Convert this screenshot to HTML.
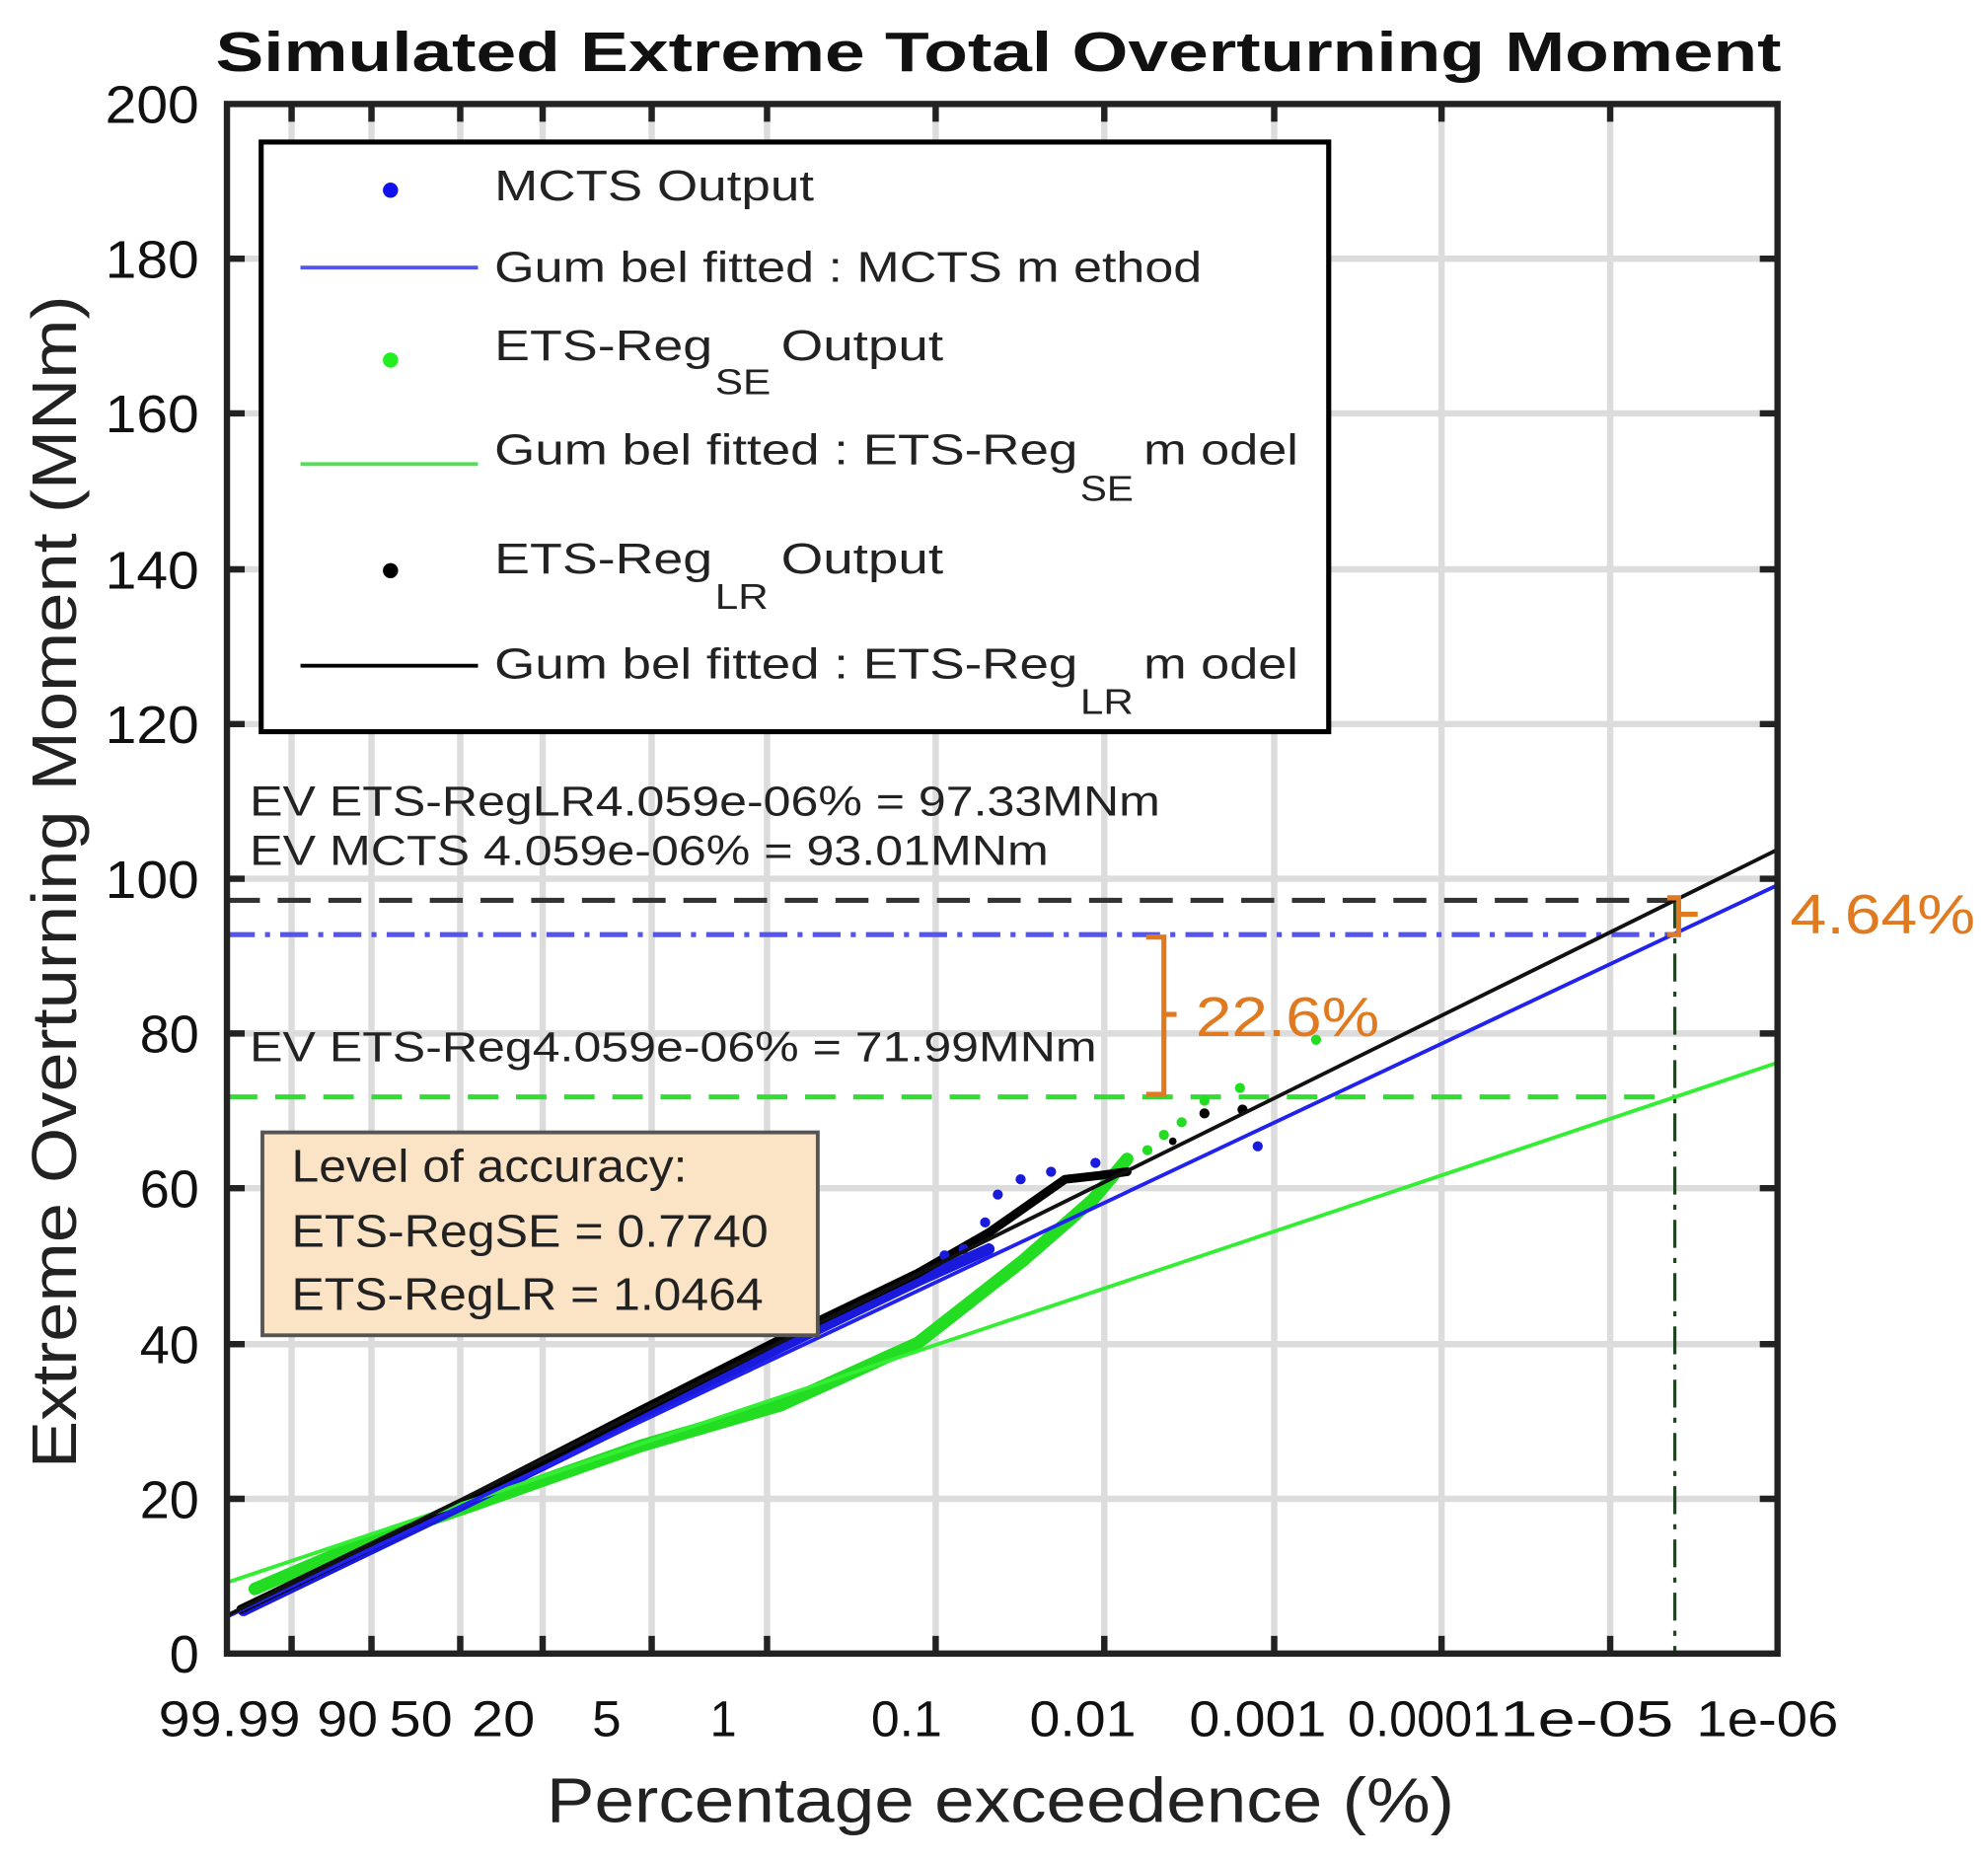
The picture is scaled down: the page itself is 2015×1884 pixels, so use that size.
<!DOCTYPE html>
<html><head><meta charset="utf-8"><style>html,body{margin:0;padding:0;background:#fff}svg{display:block}</style></head>
<body>
<svg width="2015" height="1884" viewBox="0 0 1568 1466" preserveAspectRatio="none" xmlns="http://www.w3.org/2000/svg" font-family="Liberation Sans, sans-serif">
<rect width="1568" height="1466" fill="#fff"/>
<text x="170" y="56" font-size="44" font-weight="bold" fill="#111" textLength="1235" lengthAdjust="spacingAndGlyphs">Simulated Extreme Total Overturning Moment</text>
<g stroke="#dcdcdc" stroke-width="5">
<line x1="179" x2="1402" y1="1182" y2="1182"/><line x1="179" x2="1402" y1="1060" y2="1060"/>
<line x1="179" x2="1402" y1="937" y2="937"/><line x1="179" x2="1402" y1="815" y2="815"/>
<line x1="179" x2="1402" y1="693" y2="693"/><line x1="179" x2="1402" y1="571" y2="571"/>
<line x1="179" x2="1402" y1="449" y2="449"/><line x1="179" x2="1402" y1="326" y2="326"/>
<line x1="179" x2="1402" y1="204" y2="204"/>
<line x1="230" x2="230" y1="82" y2="1304"/><line x1="293" x2="293" y1="82" y2="1304"/>
<line x1="363" x2="363" y1="82" y2="1304"/><line x1="428" x2="428" y1="82" y2="1304"/>
<line x1="514" x2="514" y1="82" y2="1304"/><line x1="605" x2="605" y1="82" y2="1304"/>
<line x1="738" x2="738" y1="82" y2="1304"/><line x1="871" x2="871" y1="82" y2="1304"/>
<line x1="1005" x2="1005" y1="82" y2="1304"/><line x1="1137" x2="1137" y1="82" y2="1304"/>
<line x1="1270" x2="1270" y1="82" y2="1304"/>
</g>
<g stroke="#222" stroke-width="5">
<path d="M230 82v14M293 82v14M363 82v14M428 82v14M514 82v14M605 82v14M738 82v14M871 82v14M1005 82v14M1137 82v14M1270 82v14"/>
<path d="M230 1304v-14M293 1304v-14M363 1304v-14M428 1304v-14M514 1304v-14M605 1304v-14M738 1304v-14M871 1304v-14M1005 1304v-14M1137 1304v-14M1270 1304v-14"/>
<path d="M179 1182h14M179 1060h14M179 937h14M179 815h14M179 693h14M179 571h14M179 449h14M179 326h14M179 204h14"/>
<path d="M1402 1182h-14M1402 1060h-14M1402 937h-14M1402 815h-14M1402 693h-14M1402 571h-14M1402 449h-14M1402 326h-14M1402 204h-14"/>
</g>
<line x1="179" x2="1321" y1="710" y2="710" stroke="#333" stroke-width="4" stroke-dasharray="26,14"/>
<line x1="179" x2="1321" y1="737" y2="737" stroke="#5555ee" stroke-width="4" stroke-dasharray="22,8,4,8"/>
<line x1="179" x2="1321" y1="865" y2="865" stroke="#33dd33" stroke-width="4" stroke-dasharray="24,14"/>
<line x1="1321" x2="1321" y1="710" y2="1304" stroke="#224422" stroke-width="2.5" stroke-dasharray="22,8,4,8"/>
<g fill="none" stroke-linecap="round" stroke-linejoin="round">
<path d="M201 1253 L290 1215 L370 1188 L506 1140 L616 1108 L724 1059 L807 994 L862 946 L889 914" stroke="#22dd22" stroke-width="10"/>
<path d="M192 1270 L364 1187 L500 1120 L616 1062 L724 1010 L780 985" stroke="#1a1add" stroke-width="9"/>
<path d="M190 1269 L364 1185 L500 1115 L616 1056 L724 1004 L780 972 L840 930 L867 927 L889 924" stroke="#000" stroke-width="7"/>
</g>
<g fill="#1a1add"><circle cx="777" cy="964" r="4"/><circle cx="787" cy="942" r="4"/><circle cx="805" cy="930" r="4"/><circle cx="829" cy="924" r="4"/><circle cx="864" cy="917" r="4"/><circle cx="992" cy="904" r="4"/><circle cx="745" cy="990" r="4"/><circle cx="760" cy="985" r="4"/></g>
<g fill="#22dd22"><circle cx="905" cy="907" r="4"/><circle cx="918" cy="895" r="4"/><circle cx="932" cy="885" r="4"/><circle cx="950" cy="868" r="4"/><circle cx="978" cy="858" r="4"/><circle cx="1038" cy="820" r="4"/></g>
<g fill="#000"><circle cx="950" cy="878" r="4"/><circle cx="980" cy="875" r="4"/><circle cx="925" cy="900" r="3"/></g>
<line x1="179" y1="1248" x2="1402" y2="838" stroke="#33ee33" stroke-width="3"/>
<line x1="179" y1="1275" x2="1402" y2="698" stroke="#2222ee" stroke-width="3"/>
<line x1="179" y1="1274" x2="1402" y2="670" stroke="#111" stroke-width="3"/>
<rect x="179" y="82" width="1223" height="1222" fill="none" stroke="#222" stroke-width="5"/>
<g font-size="33" fill="#222">
<text x="197" y="643" textLength="718" lengthAdjust="spacingAndGlyphs">EV ETS-RegLR4.059e-06% = 97.33MNm</text>
<text x="197" y="682" textLength="630" lengthAdjust="spacingAndGlyphs">EV MCTS 4.059e-06% = 93.01MNm</text>
<text x="197" y="837" textLength="668" lengthAdjust="spacingAndGlyphs">EV ETS-Reg4.059e-06% = 71.99MNm</text>
</g>
<g stroke="#e07a20" stroke-width="4" fill="none">
<path d="M904 739h14v124h-14M918 800h10"/>
<path d="M1315 708h9v29h-9M1324 721h15"/>
</g>
<text x="943" y="817" font-size="44" fill="#e07a20" textLength="145" lengthAdjust="spacingAndGlyphs">22.6%</text>
<text x="1412" y="736" font-size="44" fill="#e07a20" textLength="146" lengthAdjust="spacingAndGlyphs">4.64%</text>
<rect x="206" y="112" width="842" height="465" fill="#fff" stroke="#000" stroke-width="4"/>
<g font-size="34" fill="#222">
<circle cx="308" cy="150" r="6" fill="#1111ee"/>
<text x="390" y="158" textLength="252" lengthAdjust="spacingAndGlyphs">MCTS Output</text>
<line x1="237" x2="377" y1="211" y2="211" stroke="#5555ee" stroke-width="3"/>
<text x="390" y="222" textLength="558" lengthAdjust="spacingAndGlyphs">Gum bel fitted : MCTS m ethod</text>
<circle cx="308" cy="284" r="6" fill="#22ee22"/>
<text x="390" y="284" textLength="172" lengthAdjust="spacingAndGlyphs">ETS-Reg</text>
<text x="564" y="311" font-size="28" textLength="44" lengthAdjust="spacingAndGlyphs">SE</text>
<text x="616" y="284" textLength="128" lengthAdjust="spacingAndGlyphs">Output</text>
<line x1="237" x2="377" y1="366" y2="366" stroke="#55dd55" stroke-width="3"/>
<text x="390" y="366" textLength="460" lengthAdjust="spacingAndGlyphs">Gum bel fitted : ETS-Reg</text>
<text x="852" y="395" font-size="28" textLength="42" lengthAdjust="spacingAndGlyphs">SE</text>
<text x="902" y="366" textLength="122" lengthAdjust="spacingAndGlyphs">m odel</text>
<circle cx="308" cy="450" r="6" fill="#000"/>
<text x="390" y="452" textLength="172" lengthAdjust="spacingAndGlyphs">ETS-Reg</text>
<text x="564" y="480" font-size="28" textLength="42" lengthAdjust="spacingAndGlyphs">LR</text>
<text x="616" y="452" textLength="128" lengthAdjust="spacingAndGlyphs">Output</text>
<line x1="237" x2="377" y1="525" y2="525" stroke="#000" stroke-width="3"/>
<text x="390" y="535" textLength="460" lengthAdjust="spacingAndGlyphs">Gum bel fitted : ETS-Reg</text>
<text x="852" y="563" font-size="28" textLength="42" lengthAdjust="spacingAndGlyphs">LR</text>
<text x="902" y="535" textLength="122" lengthAdjust="spacingAndGlyphs">m odel</text>
</g>
<rect x="207" y="893" width="438" height="160" fill="#fbe4c6" stroke="#555" stroke-width="3"/>
<g font-size="36" fill="#222">
<text x="230" y="932" textLength="312" lengthAdjust="spacingAndGlyphs">Level of accuracy:</text>
<text x="230" y="983" textLength="376" lengthAdjust="spacingAndGlyphs">ETS-RegSE = 0.7740</text>
<text x="230" y="1033" textLength="372" lengthAdjust="spacingAndGlyphs">ETS-RegLR = 1.0464</text>
</g>
<g font-size="42" fill="#111" text-anchor="end">
<text x="157" y="1319">0</text><text x="157" y="1197">20</text><text x="157" y="1075">40</text>
<text x="157" y="952">60</text><text x="157" y="830">80</text><text x="157" y="708" textLength="74" lengthAdjust="spacingAndGlyphs">100</text>
<text x="157" y="586" textLength="74" lengthAdjust="spacingAndGlyphs">120</text><text x="157" y="464" textLength="74" lengthAdjust="spacingAndGlyphs">140</text><text x="157" y="341" textLength="74" lengthAdjust="spacingAndGlyphs">160</text>
<text x="157" y="219" textLength="74" lengthAdjust="spacingAndGlyphs">180</text><text x="157" y="97" textLength="74" lengthAdjust="spacingAndGlyphs">200</text>
</g>
<g font-size="40" fill="#111">
<text x="125" y="1369" textLength="112" lengthAdjust="spacingAndGlyphs">99.99</text>
<text x="250" y="1369" textLength="48" lengthAdjust="spacingAndGlyphs">90</text>
<text x="307" y="1369" textLength="50" lengthAdjust="spacingAndGlyphs">50</text>
<text x="372" y="1369" textLength="50" lengthAdjust="spacingAndGlyphs">20</text>
<text x="467" y="1369" textLength="23" lengthAdjust="spacingAndGlyphs">5</text>
<text x="560" y="1369" textLength="21" lengthAdjust="spacingAndGlyphs">1</text>
<text x="687" y="1369" textLength="56" lengthAdjust="spacingAndGlyphs">0.1</text>
<text x="812" y="1369" textLength="84" lengthAdjust="spacingAndGlyphs">0.01</text>
<text x="938" y="1369" textLength="108" lengthAdjust="spacingAndGlyphs">0.001</text>
<text x="1063" y="1369" textLength="120" lengthAdjust="spacingAndGlyphs">0.0001</text>
<text x="1183" y="1369" textLength="137" lengthAdjust="spacingAndGlyphs">1e-05</text>
<text x="1338" y="1369" textLength="112" lengthAdjust="spacingAndGlyphs">1e-06</text>
</g>
<text x="431" y="1437" font-size="50" fill="#222" textLength="716" lengthAdjust="spacingAndGlyphs">Percentage exceedence (%)</text>
<text transform="translate(60,1158) rotate(-90)" font-size="50" fill="#222" textLength="925" lengthAdjust="spacingAndGlyphs">Extreme Overturning Moment (MNm)</text>
</svg>
</body></html>
